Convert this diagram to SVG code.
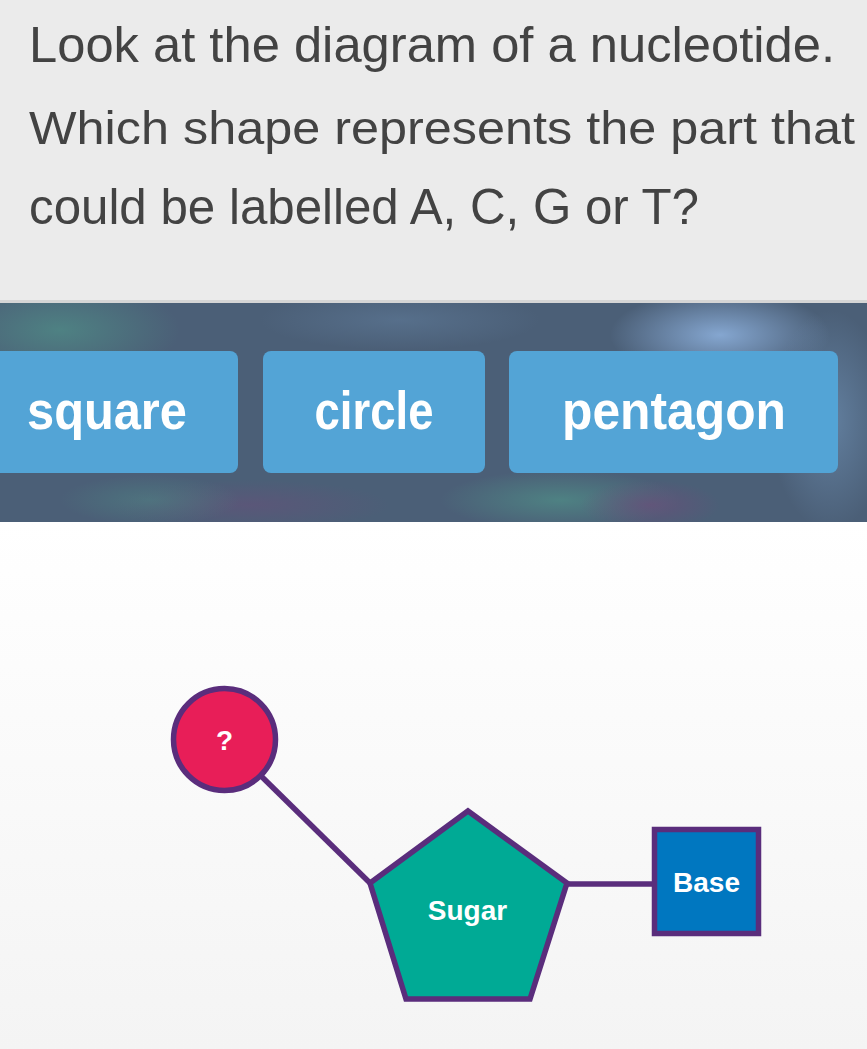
<svg xmlns="http://www.w3.org/2000/svg" width="867" height="1049" viewBox="0 0 867 1049">
<defs>
<style>
.title{font-family:"Liberation Sans",Arial,sans-serif;font-size:50px;fill:#434343}
.btn{fill:#53a4d6}
.btntxt{font-family:"Liberation Sans",Arial,sans-serif;font-size:54px;font-weight:bold;fill:#ffffff;text-anchor:middle}
.edge{stroke:#5a2d7c;stroke-width:5.5;fill:none}
.node{stroke:#5a2d7c;stroke-width:5.5}
.lbl{font-family:"Liberation Sans",Arial,sans-serif;font-weight:bold;fill:#ffffff;text-anchor:middle}
</style>
<clipPath id="bandClip">
<rect x="0" y="303" width="867" height="219"/>
</clipPath>
<linearGradient id="bgLow" x1="0" y1="0" x2="0" y2="1">
<stop offset="0" stop-color="#ffffff"/>
<stop offset="1" stop-color="#f4f4f4"/>
</linearGradient>
<radialGradient id="gTeal" cx="0.5" cy="0.5" r="0.5">
<stop offset="0" stop-color="#4f8a86" stop-opacity="0.8"/>
<stop offset="1" stop-color="#4f8a86" stop-opacity="0"/>
</radialGradient>
<radialGradient id="gBlue" cx="0.5" cy="0.5" r="0.5">
<stop offset="0" stop-color="#8fb3e0" stop-opacity="0.85"/>
<stop offset="1" stop-color="#8fb3e0" stop-opacity="0"/>
</radialGradient>
<radialGradient id="gPurp" cx="0.5" cy="0.5" r="0.5">
<stop offset="0" stop-color="#6a4e7a" stop-opacity="0.7"/>
<stop offset="1" stop-color="#6a4e7a" stop-opacity="0"/>
</radialGradient>
<radialGradient id="gLight" cx="0.5" cy="0.5" r="0.5">
<stop offset="0" stop-color="#6c8db0" stop-opacity="0.7"/>
<stop offset="1" stop-color="#6c8db0" stop-opacity="0"/>
</radialGradient>
</defs>

<!-- header -->
<rect x="0" y="0" width="867" height="300" fill="#ebebeb"/>
<rect x="0" y="300" width="867" height="3" fill="#d5d5d5"/>
<text class="title" x="29" y="62" textLength="806" lengthAdjust="spacingAndGlyphs">Look at the diagram of a nucleotide.</text>
<text class="title" x="29" y="144" font-size="47" style="font-size:47px" textLength="826" lengthAdjust="spacingAndGlyphs">Which shape represents the part that</text>
<text class="title" x="29" y="224" textLength="670" lengthAdjust="spacingAndGlyphs">could be labelled A, C, G or T?</text>

<!-- textured band -->
<g clip-path="url(#bandClip)">
<rect x="0" y="303" width="867" height="219" fill="#4b5f77"/>
<ellipse cx="60" cy="330" rx="120" ry="50" fill="url(#gTeal)"/>
<ellipse cx="720" cy="335" rx="110" ry="45" fill="url(#gBlue)"/>
<ellipse cx="830" cy="420" rx="60" ry="110" fill="url(#gLight)"/>
<ellipse cx="400" cy="320" rx="140" ry="30" fill="url(#gLight)" opacity="0.5"/>
<ellipse cx="560" cy="500" rx="120" ry="30" fill="url(#gTeal)"/>
<ellipse cx="650" cy="505" rx="70" ry="25" fill="url(#gPurp)"/>
<ellipse cx="250" cy="505" rx="140" ry="25" fill="url(#gPurp)" opacity="0.7"/>
<ellipse cx="150" cy="500" rx="90" ry="25" fill="url(#gTeal)" opacity="0.6"/>
</g>

<!-- answer buttons -->
<g id="btn-square">
<rect class="btn" x="-20" y="351" width="258" height="122" rx="8"/>
<text class="btntxt" x="107" y="429" textLength="160" lengthAdjust="spacingAndGlyphs">square</text>
</g>
<g id="btn-circle">
<rect class="btn" x="263" y="351" width="222" height="122" rx="8"/>
<text class="btntxt" x="374" y="429" textLength="119" lengthAdjust="spacingAndGlyphs">circle</text>
</g>
<g id="btn-pentagon">
<rect class="btn" x="509" y="351" width="329" height="122" rx="8"/>
<text class="btntxt" x="674" y="429" textLength="224" lengthAdjust="spacingAndGlyphs">pentagon</text>
</g>

<!-- diagram area -->
<rect x="0" y="522" width="867" height="527" fill="url(#bgLow)"/>

<g id="connectors">
<line class="edge" x1="258" y1="773" x2="370" y2="883"/>
<line class="edge" x1="567" y1="884" x2="655" y2="884"/>
</g>

<g id="node-phosphate">
<circle class="node" cx="224.5" cy="739.5" r="51" fill="#e81e58"/>
<text class="lbl" x="224.5" y="750" font-size="28">?</text>
</g>

<g id="node-sugar">
<polygon class="node" points="468,811 567,883 530,999 406,999 370,883" fill="#00aa95"/>
<text class="lbl" x="467.5" y="920" font-size="28">Sugar</text>
</g>

<g id="node-base">
<rect class="node" x="654.5" y="829.5" width="104" height="104" fill="#0077c0"/>
<text class="lbl" x="706.5" y="892" font-size="28">Base</text>
</g>
</svg>
